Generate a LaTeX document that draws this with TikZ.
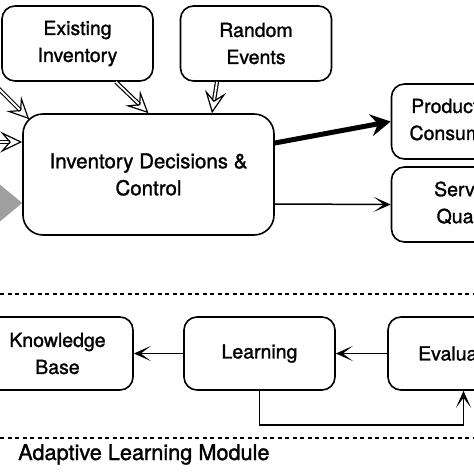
\documentclass[tikz,border=0pt]{standalone}
\usepackage{fontspec}
\setmainfont{TeX Gyre Heros}[FakeBold=1.3]
\usepackage{tikz}
\usetikzlibrary{calc,positioning,arrows.meta}

\begin{document}
\begin{tikzpicture}[x=1pt,y=-1pt,
		box/.style={draw,line width=1.6pt,rounded corners=13pt,minimum width=151pt,minimum height=75pt,align=center,inner sep=0pt,font=\fontsize{19.5}{27}\selectfont},
		dblarrow/.style={double,double distance=1.8pt,line width=1.2pt,-{Stealth[open,length=22pt,width=21pt,inset=9pt]}},
		thinarrow/.style={line width=1.5pt,-{Stealth[length=17pt,width=15pt,inset=10pt]}}]
				%\draw[color=gray,step=10pt, help lines,opacity=0.3] (0,0) grid (474,474); %help grids
				\useasboundingbox (0,0) rectangle (474,474);
				\clip (0,0) rectangle (474,474);
				\node[box] (exist) at (77.5,43.5) {Existing\\Inventory};
				\node[box] (random) at (256,43.5) {Random\\Events};
				\node[box,minimum width=251pt,minimum height=121pt,rounded corners=20pt,font=\fontsize{20.5}{27}\selectfont] (decide) at (148.5,174.5) {Inventory Decisions \&\\Control};
				\node[box] (prod) at (467,121.5) {Production \&\\Consumption};
				\node[box] (serv) at (467,204.5) {Service\\Quality};
				\coordinate (in1) at (-6,84);
				\coordinate (in2) at (-6,142);
				\draw[dblarrow] (exist.-45) -- (decide.north);
				\draw[dblarrow] ($(random.south)+(-39,0)$) -- ($(decide.north)+(63.5,0)$);
				\draw[dblarrow] (in1) -- ($(decide.north west)+(7,6)$);
				\draw[dblarrow] (in2) -- ($(decide.west)+(0,-32.5)$);
				\fill[gray!75] (-14,173) -- (decide.west |- 0,203) -- (-14,233) -- cycle;
				\draw[line width=5pt,-{Stealth[length=20pt,width=22pt,inset=7pt]}] ($(decide.east)+(0,-31.5)$) -- (prod.west);
				\draw[thinarrow] ($(decide.east)+(0,29.5)$) -- (serv.west);
				% adaptive learning module
				\draw[line width=2.5pt,dash pattern=on 4pt off 3.5pt] (0,294) -- (474,294);
				\node[box,minimum height=73pt] (know) at (57.5,353.5) {Knowledge\\Base};
				\node[box,minimum height=73pt] (learn) at (259.5,353.5) {Learning};
				\node[box,minimum height=73pt] (eval) at (463.5,353.5) {Evaluation};
				\draw[thinarrow] (learn.west) -- (know.east);
				\draw[thinarrow] (eval.west) -- (learn.east);
				\draw[thinarrow] (learn.south) -- ++(0,34) -| (eval.south);
				\draw[line width=2.5pt,dash pattern=on 4pt off 3.5pt] (0,438) -- (474,438);
				\node[anchor=base west,inner sep=0pt,font=\fontsize{21.7}{26}\selectfont] (module) at (18,460) {Adaptive Learning Module};
\end{tikzpicture}
\end{document}
